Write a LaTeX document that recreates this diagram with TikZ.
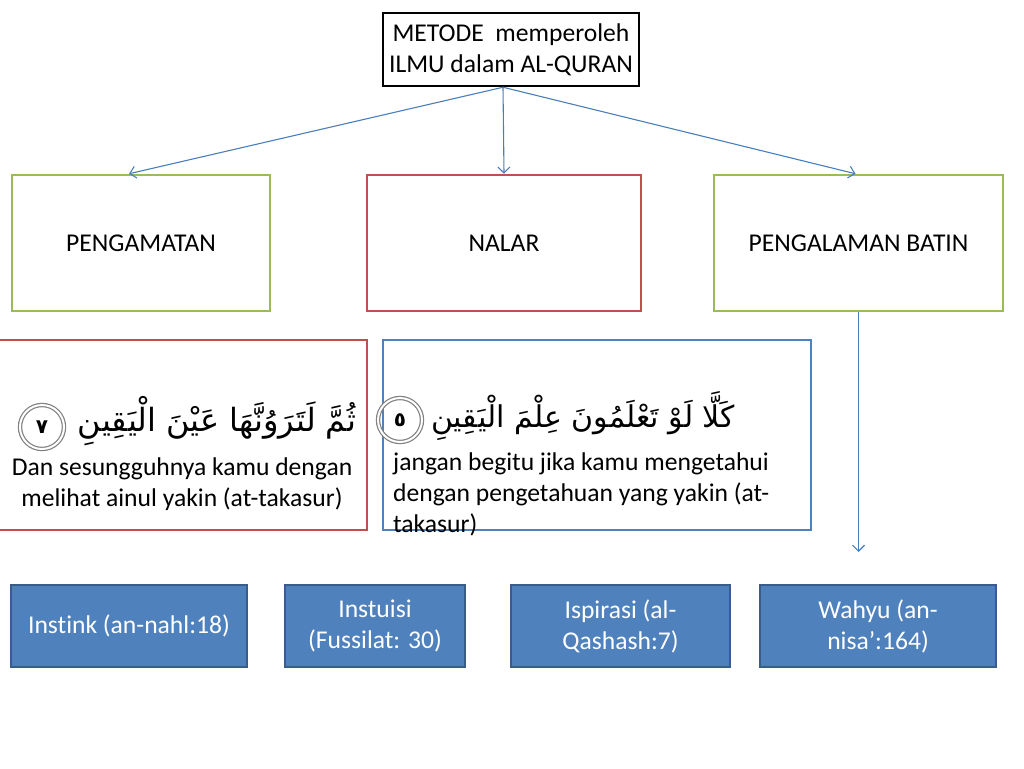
\documentclass[tikz,border=0pt]{standalone}
\usepackage{fontspec}
\setmainfont{Carlito}[Ligatures={NoCommon}]
\newfontfamily\arabicfont[Script=Arabic]{DejaVu Sans}
\TeXXeTstate=1
\usetikzlibrary{arrows.meta}
\definecolor{hijau}{HTML}{9BBB59}
\definecolor{merah}{HTML}{C0504D}
\definecolor{biru}{HTML}{4F81BD}
\definecolor{birutua}{HTML}{385D8A}
\definecolor{panah}{HTML}{4A7EBB}

\begin{document}
\begin{tikzpicture}[x=1pt, y=-1pt,
    font=\fontsize{25.6}{31}\selectfont,
    kotak/.style={rectangle, draw, line width=2.5pt, inner sep=0pt, align=center},
    isi/.style={rectangle, draw=birutua, fill=biru, line width=1.5pt, text=white, inner sep=0pt, align=center},
    nomor/.style={circle, draw=gray, double=white, double distance=2pt, line width=1.2pt, minimum size=44pt, inner sep=0pt, font=\arabicfont\bfseries\fontsize{20}{20}\selectfont},
    arab/.style={inner sep=0pt, font=\arabicfont\fontsize{30}{36}\selectfont},
    panahbiru/.style={draw=panah, line width=1.1pt, -{Straight Barb[length=6pt, width=12pt]}}]
  \useasboundingbox (0,0) rectangle (1024,768);

  \node[kotak, minimum width=256pt, minimum height=73pt] (metode) at (511, 49.5) {METODE~ memperoleh\\ILMU dalam AL-QURAN};

  \node[kotak, draw=hijau, minimum width=258pt, minimum height=136pt] (amat) at (141, 243) {PENGAMATAN};
  \node[kotak, draw=merah, minimum width=274pt, minimum height=136pt] (nalar) at (504, 243) {NALAR};
  \node[kotak, draw=hijau, minimum width=289pt, minimum height=136pt] (batin) at (858.5, 243) {PENGALAMAN BATIN};

  \draw[panahbiru] ([xshift=-8pt]metode.south) -- ([xshift=-12pt]amat.north);
  \draw[panahbiru] ([xshift=-8pt]metode.south) -- (nalar.north);
  \draw[panahbiru] ([xshift=-8pt]metode.south) -- ([xshift=-3pt]batin.north);

  % ayat at-takasur
  \node[kotak, draw=merah, minimum width=369pt, minimum height=190pt] (ayat1) at (182.5, 435) {};
  \node[kotak, draw=biru, minimum width=428pt, minimum height=190pt] (ayat2) at (597, 435) {};

  \node[nomor] (nomor1) at (42, 427) {٧};
  \node[arab, font=\arabicfont\fontsize{32}{38}\selectfont] (arab1) at (217, 421) {\beginR ثُمَّ لَتَرَوُنَّهَا عَيْنَ الْيَقِينِ\endR};
  \node[align=center, inner sep=0pt] (arti1) at (182, 484) {Dan sesungguhnya kamu dengan\\melihat ainul yakin (at-takasur)};

  \node[nomor] (nomor2) at (400, 420) {٥};
  \node[arab] (arab2) at (583, 416) {\beginR كَلَّا لَوْ تَعْلَمُونَ عِلْمَ الْيَقِينِ\endR};
  \node[align=left, inner sep=0pt, anchor=north west] (arti2) at (393, 453) {jangan begitu jika kamu mengetahui\\dengan pengetahuan yang yakin (at-\\takasur)};

  \coordinate (ujung) at (858.5, 552);
  \draw[panahbiru] (batin.south) -- (ujung);

  % sumber ilmu
  \node[isi, minimum width=236pt, minimum height=82pt] (instink) at (129, 626) {Instink (an-nahl:18)};
  \node[isi, minimum width=180pt, minimum height=82pt] (intuisi) at (375, 626) {Instuisi\\(Fussilat: 30)};
  \node[isi, minimum width=219pt, minimum height=82pt] (ilham) at (620.5, 626) {Ispirasi (al-\\Qashash:7)};
  \node[isi, minimum width=236pt, minimum height=82pt] (wahyu) at (878, 626) {Wahyu (an-\\nisa’:164)};
\end{tikzpicture}
\end{document}
